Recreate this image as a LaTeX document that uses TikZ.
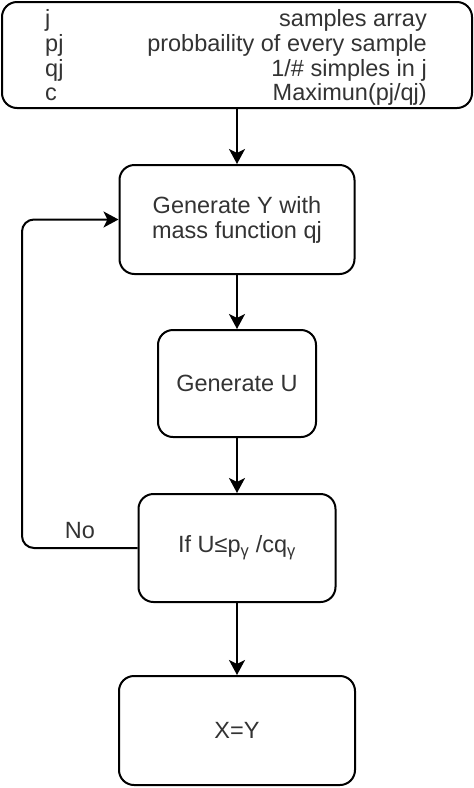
\documentclass[tikz,border=0pt]{standalone}
\usepackage{fontspec}
\setmainfont{Liberation Sans}
\usetikzlibrary{arrows.meta}
\definecolor{txt}{HTML}{333333}
\begin{document}
\begin{tikzpicture}[x=1pt,y=-1pt,
  box/.style={draw=black,line width=2pt,rounded corners=15pt,inner sep=0pt,text=txt,align=center,font=\fontsize{23.5}{25}\selectfont},
  lbl/.style={inner sep=0pt,text=txt,font=\fontsize{23.5}{25}\selectfont},
  conn/.style={draw=black,line width=2pt,-{Stealth[length=15pt,width=16pt,inset=4pt]}}]
\useasboundingbox (0,0) rectangle (474,788);
\node[box,minimum width=470pt,minimum height=106pt] (top) at (237,55) {};
\node[lbl,anchor=base west] (l1) at (45,26) {j};
\node[lbl,anchor=base west] (l2) at (45,51) {pj};
\node[lbl,anchor=base west] (l3) at (45,76) {qj};
\node[lbl,anchor=base west] (l4) at (45,100) {c};
\node[lbl,anchor=base east] (r1) at (427,26) {samples array};
\node[lbl,anchor=base east] (r2) at (427,51) {probbaility of every sample};
\node[lbl,anchor=base east] (r3) at (427,76) {1/\# simples in j};
\node[lbl,anchor=base east] (r4) at (427,100) {Maximun(pj/qj)};
\node[box,minimum width=235pt,minimum height=109pt] (gy) at (237,219.5) {Generate Y with\\mass function qj};
\node[box,minimum width=158pt,minimum height=107pt] (gu) at (237,383.5) {Generate U};
\node[box,minimum width=197pt,minimum height=108pt] (cond) at (237,548) {If U≤p\textsubscript{γ} /cq\textsubscript{γ}};
\node[box,minimum width=236pt,minimum height=109pt] (res) at (237,730.5) {X=Y};
\coordinate (loopx) at (22,0);
\draw[conn] (top.south -| gy.north) -- (gy.north);
\draw[conn] (gy) -- (gu);
\draw[conn] (gu) -- (cond);
\draw[conn] (cond) -- (res);
\draw[conn,rounded corners=12pt] (cond.west) -- (cond.west -| loopx) |- (gy.west);
\node[lbl,anchor=base] (no) at (80,538) {No};
\end{tikzpicture}
\end{document}
